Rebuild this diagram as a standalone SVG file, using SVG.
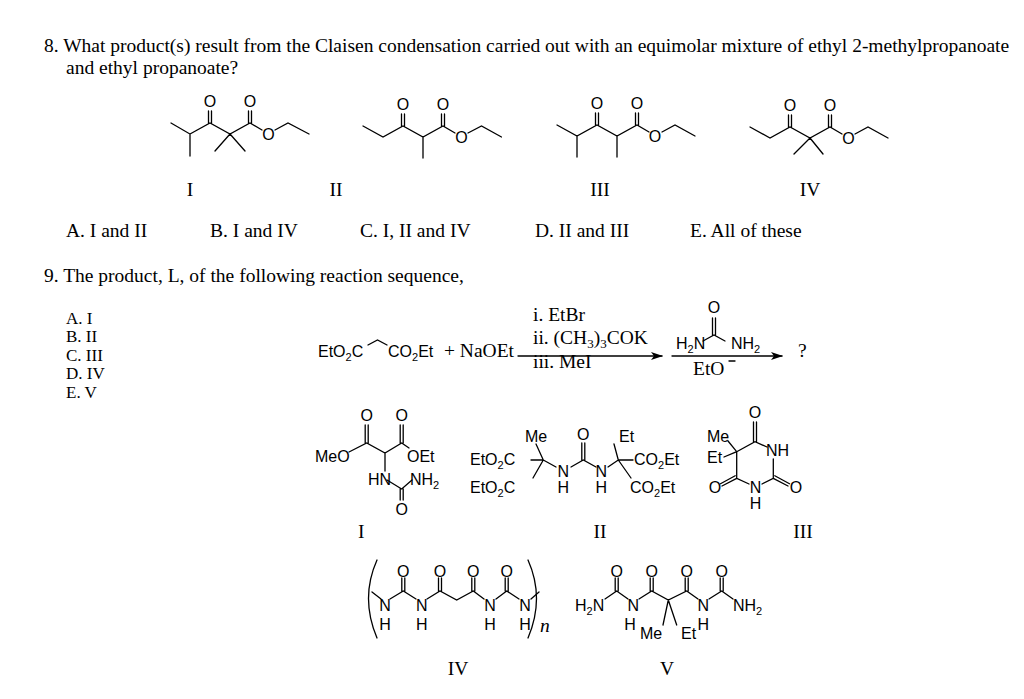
<svg xmlns="http://www.w3.org/2000/svg" width="1024" height="699" viewBox="0 0 1024 699">
<defs>
<style>
.b{stroke:#000;stroke-width:1.3;fill:none;stroke-linecap:round}
.t{font-family:"Liberation Serif",serif;font-size:19.5px;fill:#000}
.o{font-family:"Liberation Serif",serif;font-size:17px;fill:#000}
.a{font-family:"Liberation Sans",Arial,sans-serif;font-size:16px;fill:#000;text-anchor:middle}
.l{font-family:"Liberation Sans",Arial,sans-serif;font-size:16px;fill:#000}
.s{font-size:11px}
</style>
<marker id="ah" markerWidth="12" markerHeight="8" refX="11" refY="4" orient="auto" markerUnits="userSpaceOnUse"><path d="M0,0 L12,4 L0,8 L3,4 Z" fill="#000"/></marker>
</defs>
<rect width="1024" height="699" fill="#fff"/>
<text class="t" x="44" y="52">8. What product(s) result from the Claisen condensation carried out with an equimolar mixture of ethyl 2-methylpropanoate</text>
<text class="t" x="66" y="74">and ethyl propanoate?</text>

<g id="q8-I">
<path class="b" d="M171,123 L190,134 L190,156 M190,134 L210,123 L230,134 L250,123 L262,130 M275,130 L288,123 L309,134 M230,134 L215,151 M230,134 L245,151 M208.5,123 V111 M211.5,123 V111 M248.5,123 V111 M251.5,123 V111"/>
<text class="a" x="210" y="107">O</text><text class="a" x="250" y="107">O</text><text class="a" x="268.5" y="139.5">O</text>
<text class="t" x="190" y="196" text-anchor="middle">I</text>
</g>
<g id="q8-II">
<path class="b" d="M363,126 L383,137 L403,126 L423,137 L443,126 L455,133 M468,133 L481.5,126 L501.5,137 M423,137 V158 M401.5,126 V114 M404.5,126 V114 M441.5,126 V114 M444.5,126 V114"/>
<text class="a" x="403" y="110">O</text><text class="a" x="443" y="110">O</text><text class="a" x="461.5" y="142.5">O</text>
<text class="t" x="336" y="196" text-anchor="middle">II</text>
</g>
<g id="q8-III">
<path class="b" d="M557,125 L577,136 L597,125 L617,136 L637,125 L649,132 M662,132 L675,125 L695,136 M577,136 V157 M617,136 V157 M595.5,125 V113 M598.5,125 V113 M635.5,125 V113 M638.5,125 V113"/>
<text class="a" x="597" y="109">O</text><text class="a" x="637" y="109">O</text><text class="a" x="655" y="141.5">O</text>
<text class="t" x="600" y="196" text-anchor="middle">III</text>
</g>
<g id="q8-IV">
<path class="b" d="M750,127 L770,138 L790,127 L810,138 L830,127 L842,134 M855,134 L868,127 L888,138 M810,138 L794,154 M810,138 L823,154 M788.5,127 V115 M791.5,127 V115 M828.5,127 V115 M831.5,127 V115"/>
<text class="a" x="790" y="111">O</text><text class="a" x="830" y="111">O</text><text class="a" x="848.5" y="143.5">O</text>
<text class="t" x="810" y="196" text-anchor="middle">IV</text>
</g>

<g id="q8-answers">
<text class="t" x="66" y="237">A. I and II</text>
<text class="t" x="210" y="237">B. I and IV</text>
<text class="t" x="360" y="237">C. I, II and IV</text>
<text class="t" x="535" y="237">D. II and III</text>
<text class="t" x="690" y="237">E. All of these</text>
</g>

<text class="t" x="44" y="282">9. The product, L, of the following reaction sequence,</text>
<g id="q9-options">
<text class="o" x="66" y="324">A. I</text>
<text class="o" x="66" y="342">B. II</text>
<text class="o" x="66" y="361">C. III</text>
<text class="o" x="66" y="379">D. IV</text>
<text class="o" x="66" y="398">E. V</text>
</g>

<g id="reaction">
<text class="l" x="318" y="357">EtO<tspan class="s" dy="4">2</tspan><tspan dy="-4">C</tspan></text>
<path class="b" d="M368,345 L377.5,340 L387,345"/>
<text class="l" x="388" y="357">CO<tspan class="s" dy="4">2</tspan><tspan dy="-4">Et</tspan></text>
<text class="t" x="444" y="357">+ NaOEt</text>
<text class="t" x="533" y="321">i. EtBr</text>
<text class="t" x="533" y="344">ii. (CH<tspan font-size="13" dy="4">3</tspan><tspan dy="-4">)</tspan><tspan font-size="13" dy="4">3</tspan><tspan dy="-4">COK</tspan></text>
<text class="t" x="533" y="368">iii. MeI</text>
<line class="b" x1="518" y1="356" x2="662" y2="356" marker-end="url(#ah)"/>
<text class="l" x="676" y="349" font-size="15">H<tspan class="s" dy="4">2</tspan><tspan dy="-4">N</tspan></text>
<path class="b" d="M703,341 L714,335 L725,341 M712.5,335 V318 M715.5,335 V318"/>
<text class="a" x="714" y="313">O</text>
<text class="l" x="731" y="349" font-size="15">NH<tspan class="s" dy="4">2</tspan></text>
<line class="b" x1="672" y1="356" x2="782" y2="356" marker-end="url(#ah)"/>
<text class="t" x="693" y="375">EtO</text>
<line class="b" x1="729" y1="361" x2="735" y2="361"/>
<text class="t" x="798" y="357">?</text>
</g>

<g id="cpd-I">
<text class="l" x="315" y="462">MeO</text>
<path class="b" d="M349,452 L366.7,443 L385,453 L401.7,443 L409,448 M365.2,443 V425 M368.2,443 V425 M400.2,443 V425 M403.2,443 V425 M385,453 V471 M387,480 L401.7,489 L412,480 M400.2,489 V500 M403.2,489 V500"/>
<text class="a" x="366.7" y="421">O</text><text class="a" x="401.7" y="421">O</text>
<text class="l" x="407" y="462">OEt</text>
<text class="l" x="368" y="485">HN</text>
<text class="l" x="410" y="485">NH<tspan class="s" dy="4">2</tspan></text>
<text class="a" x="401.7" y="515">O</text>
<text class="t" x="358" y="538">I</text>
</g>

<g id="cpd-II">
<text class="l" x="525" y="442">Me</text>
<text class="l" x="470" y="465">EtO<tspan class="s" dy="4">2</tspan><tspan dy="-4">C</tspan></text>
<text class="l" x="470" y="493">EtO<tspan class="s" dy="4">2</tspan><tspan dy="-4">C</tspan></text>
<path class="b" d="M531,460 H543.3 L536,444 M543.3,460 L533,478 M543.3,460 L556,467 M571,467 L583.3,460 L596,467 M608,467 L618.3,460 L614,444 M618.3,460 H633 M618.3,460 L631,478 M581.8,460 V443 M584.8,460 V443"/>
<text class="a" x="563.3" y="477">N</text><text class="a" x="563.3" y="493">H</text>
<text class="a" x="583.3" y="440">O</text>
<text class="a" x="601.3" y="477">N</text><text class="a" x="601.3" y="493">H</text>
<text class="l" x="619" y="442">Et</text>
<text class="l" x="634" y="465">CO<tspan class="s" dy="4">2</tspan><tspan dy="-4">Et</tspan></text>
<text class="l" x="630" y="493">CO<tspan class="s" dy="4">2</tspan><tspan dy="-4">Et</tspan></text>
<text class="t" x="600" y="538" text-anchor="middle">II</text>
</g>

<g id="cpd-III">
<text class="l" x="707" y="442">Me</text>
<text class="l" x="707" y="463">Et</text>
<path class="b" d="M728,441 L736.7,451.7 L724,457 M736.7,451.7 L755,441.7 L767,447 M773.3,459 V478.3 L762,484 M749,484 L736.7,478.3 V451.7 M736.7,478.3 L722,486 M753.5,441.7 V422 M756.5,441.7 V422 M773.3,478.3 L788,486 M774.8,475.7 L789.5,483.7 M735.2,475.7 L720.5,483.7"/>
<text class="a" x="755" y="418">O</text>
<text class="l" x="766" y="456">NH</text>
<text class="a" x="755.5" y="493">N</text><text class="a" x="755.5" y="509">H</text>
<text class="a" x="796" y="493">O</text><text class="a" x="715" y="493">O</text>
<text class="t" x="803" y="538" text-anchor="middle">III</text>
</g>

<g id="cpd-IV">
<path class="b" d="M377,560 Q360,598 377,638 M528,560 Q545,598 528,638"/>
<path class="b" d="M372,592 L381,599 M390,599 L403.3,591 L416,599 M427,599 L440,591 L456.7,600 L473.3,591 L484,599 M496,599 L506.7,591 L519,599 M531,599 L539,592 M401.8,591 V578 M404.8,591 V578 M438.5,591 V578 M441.5,591 V578 M471.8,591 V578 M474.8,591 V578 M505.2,591 V578 M508.2,591 V578"/>
<text class="a" x="403.3" y="577">O</text><text class="a" x="440" y="577">O</text><text class="a" x="473.3" y="577">O</text><text class="a" x="506.7" y="577">O</text>
<text class="a" x="385" y="611">N</text><text class="a" x="385" y="630">H</text>
<text class="a" x="421.7" y="611">N</text><text class="a" x="421.7" y="630">H</text>
<text class="a" x="490" y="611">N</text><text class="a" x="490" y="630">H</text>
<text class="a" x="525" y="611">N</text><text class="a" x="525" y="630">H</text>
<text class="t" x="540" y="632" font-style="italic">n</text>
<text class="t" x="458" y="675" text-anchor="middle">IV</text>
</g>

<g id="cpd-V">
<text class="l" x="575" y="611">H<tspan class="s" dy="4">2</tspan><tspan dy="-4">N</tspan></text>
<path class="b" d="M605,599 L616.7,591 L628,599 M639,599 L651.7,591 L668.3,600 L686.7,591 L698,599 M709,599 L721.7,591 L733,599 M668.3,600 L663,625 M668.3,600 L676.7,625 M615.2,591 V578 M618.2,591 V578 M650.2,591 V578 M653.2,591 V578 M685.2,591 V578 M688.2,591 V578 M720.2,591 V578 M723.2,591 V578"/>
<text class="a" x="616.7" y="577">O</text><text class="a" x="651.7" y="577">O</text><text class="a" x="686.7" y="577">O</text><text class="a" x="721.7" y="577">O</text>
<text class="a" x="633.3" y="611">N</text><text class="a" x="630" y="630">H</text>
<text class="l" x="640" y="639">Me</text>
<text class="l" x="681" y="639">Et</text>
<text class="a" x="703.3" y="611">N</text><text class="a" x="703.3" y="630">H</text>
<text class="l" x="733" y="611">NH<tspan class="s" dy="4">2</tspan></text>
<text class="t" x="667" y="675" text-anchor="middle">V</text>
</g>
</svg>
